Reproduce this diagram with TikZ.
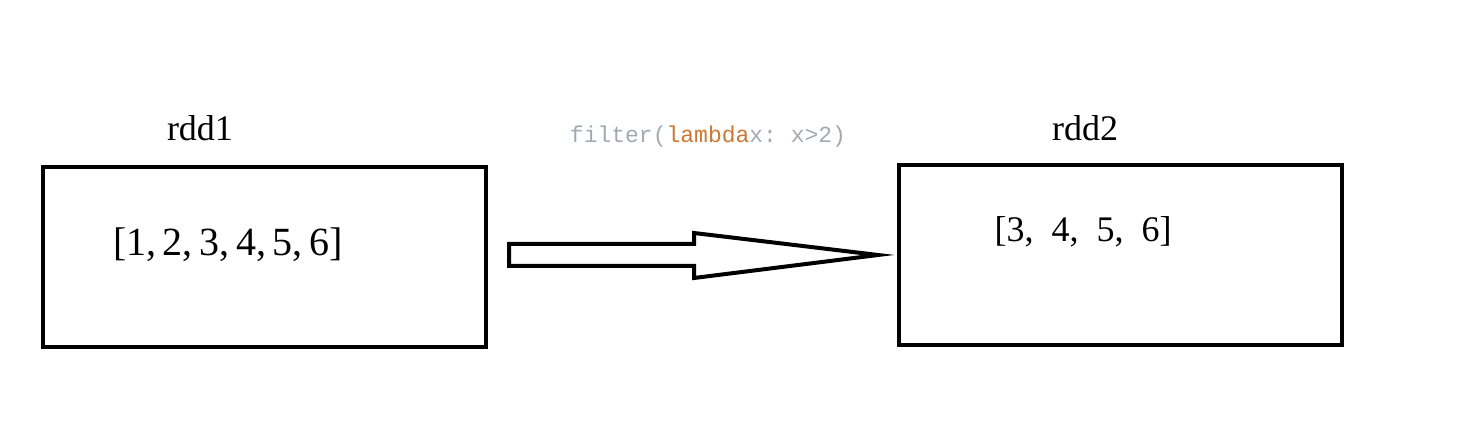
\documentclass[tikz,border=0pt]{standalone}
\usepackage{fontspec}
\setmainfont{Liberation Serif}
\setmonofont{Liberation Mono}
\definecolor{codegray}{RGB}{160,170,180}
\definecolor{codeorange}{RGB}{204,120,50}
\begin{document}
\begin{tikzpicture}[x=0.5pt,y=-0.5pt,
  box/.style={draw,line width=2pt},
  lbl/.style={font=\fontsize{18}{20}\selectfont}]
\useasboundingbox (0,0) rectangle (1481,432);
\draw[box] (43,167) rectangle (486,347);
\draw[box] (899,165) rectangle (1342,345);
\node[lbl] (r1) at (200,128) {rdd1};
\node[lbl] (r2) at (1085,128) {rdd2};
\node[font=\fontsize{20}{22}\selectfont] (a) at (228,245) {[1,\,2,\,3,\,4,\,5,\,6]};
\node[font=\fontsize{18}{20}\selectfont] (b) at (1083,232) {[3,~~4,~~5,~~6]};
\node[font=\ttfamily\fontsize{11.5}{13}\selectfont] (f) at (708,137)
  {\textcolor{codegray}{filter(}\textcolor{codeorange}{lambda}\textcolor{codegray}{ x: x>2)}};
\draw[line width=2pt,line join=miter] (509,244) -- (694,244) -- (694,233) -- (878,255) -- (694,278) -- (694,266) -- (509,266) -- cycle;
\end{tikzpicture}
\end{document}
